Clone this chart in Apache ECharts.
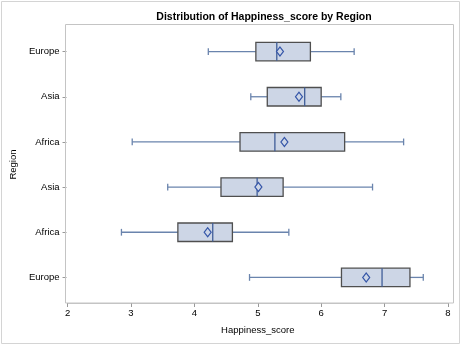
<!DOCTYPE html>
<html><head><meta charset="utf-8">
<script src="https://cdn.jsdelivr.net/npm/echarts@6/dist/echarts.min.js"></script>
<style>html,body{margin:0;padding:0;background:#fff}#c{width:462px;height:346px}</style>
</head><body><div id="c"></div>
<script>
var regions = ['Europe', 'Asia', 'Africa', 'Asia', 'Africa', 'Europe'];
var minV   = [4.22, 4.89, 3.02, 3.58, 2.85, 4.87];
var q1V    = [4.97, 5.15, 4.72, 4.42, 3.74, 6.32];
var medV   = [5.30, 5.74, 5.27, 4.99, 4.29, 6.96];
var q3V    = [5.83, 6.00, 6.37, 5.40, 4.60, 7.40];
var maxV   = [6.52, 6.31, 7.30, 6.81, 5.49, 7.61];
var meanV  = [5.35, 5.65, 5.42, 5.01, 4.21, 6.71];
var xTicks = [2, 3, 4, 5, 6, 7, 8];

var boxData = regions.map(function (r, i) { return [i, minV[i], q1V[i], medV[i], q3V[i], maxV[i]]; });
var meanData = regions.map(function (r, i) { return [meanV[i], i]; });

var chart = echarts.init(document.getElementById('c'), null, {renderer: 'canvas'});
var FONT = '"Liberation Sans", Arial, sans-serif';
var BOXFILL = '#cdd6e6', BOXLINE = '#4f4f4f', WHISK = '#6a84ad', MED = '#3f5d98', MEAN = '#3556a8';

function renderBox(params, api) {
  var idx = api.value(0);
  var pMin = api.coord([api.value(1), idx]);
  var pQ1 = api.coord([api.value(2), idx]);
  var pMed = api.coord([api.value(3), idx]);
  var pQ3 = api.coord([api.value(4), idx]);
  var pMax = api.coord([api.value(5), idx]);
  var band = api.size([0, 1])[1];
  var bh = band * 0.41, ch = band * 0.15;
  var y = pMed[1];
  var ls = {stroke: WHISK, lineWidth: 1.3};
  return {
    type: 'group',
    children: [
      {type: 'line', shape: {x1: pMin[0], y1: y, x2: pQ1[0], y2: y}, style: ls},
      {type: 'line', shape: {x1: pQ3[0], y1: y, x2: pMax[0], y2: y}, style: ls},
      {type: 'line', shape: {x1: pMin[0], y1: y - ch / 2, x2: pMin[0], y2: y + ch / 2}, style: ls},
      {type: 'line', shape: {x1: pMax[0], y1: y - ch / 2, x2: pMax[0], y2: y + ch / 2}, style: ls},
      {type: 'rect', shape: {x: pQ1[0], y: y - bh / 2, width: pQ3[0] - pQ1[0], height: bh}, style: {fill: BOXFILL, stroke: BOXLINE, lineWidth: 1.3}},
      {type: 'line', shape: {x1: pMed[0], y1: y - bh / 2, x2: pMed[0], y2: y + bh / 2}, style: {stroke: MED, lineWidth: 1.3}}
    ]
  };
}

chart.setOption({
  animation: false,
  backgroundColor: '#fff',
  title: {
    text: 'Distribution of Happiness_score by Region',
    left: 259, top: 7, textAlign: 'center',
    textStyle: {fontFamily: FONT, fontSize: 10.5, fontWeight: 'bold', color: '#000'}
  },
  graphic: [
    {type: 'rect', shape: {x: 1.5, y: 1.5, width: 458, height: 342}, style: {fill: 'none', stroke: '#d4d4d4', lineWidth: 1}, silent: true, z: -1},
    {type: 'rect', shape: {x: 65.5, y: 24.5, width: 388, height: 278.5}, style: {fill: 'none', stroke: '#c4c4c4', lineWidth: 1}, silent: true, z: 100}
  ],
  grid: {left: 66, right: 14, top: 29, bottom: 46},
  xAxis: {
    type: 'value', min: xTicks[0], max: xTicks[xTicks.length - 1], interval: 1, offset: 3,
    name: 'Happiness_score', nameLocation: 'middle', nameGap: 22,
    nameTextStyle: {fontFamily: FONT, fontSize: 9.5, color: '#000'},
    axisLine: {show: true, lineStyle: {color: '#c4c4c4'}},
    axisTick: {show: true, length: 4, lineStyle: {color: '#999'}},
    axisLabel: {fontFamily: FONT, fontSize: 9.5, color: '#000', margin: 5},
    splitLine: {show: false}
  },
  yAxis: {
    type: 'category', data: regions, inverse: true, offset: 1,
    name: 'Region', nameLocation: 'middle', nameGap: 47, nameRotate: 90,
    nameTextStyle: {fontFamily: FONT, fontSize: 9.5, color: '#000'},
    axisLine: {show: false},
    axisTick: {show: true, alignWithLabel: true, length: 4, lineStyle: {color: '#999'}},
    axisLabel: {fontFamily: FONT, fontSize: 9.5, color: '#000', margin: 7},
    splitLine: {show: false}
  },
  series: [
    {type: 'custom', renderItem: renderBox, data: boxData, encode: {x: [1, 2, 3, 4, 5], y: 0}, z: 2},
    {type: 'scatter', data: meanData, symbol: 'diamond', symbolSize: [7, 9],
     itemStyle: {color: BOXFILL, borderColor: MEAN, borderWidth: 1.2, opacity: 1}, z: 5}
  ]
});
</script></body></html>
